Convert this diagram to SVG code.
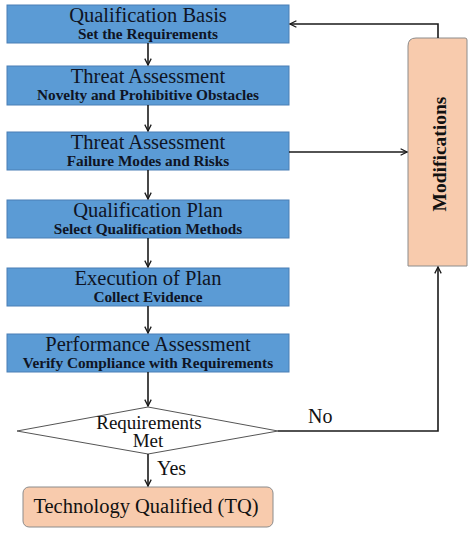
<svg xmlns="http://www.w3.org/2000/svg" width="474" height="534" viewBox="0 0 474 534">
<defs>
<style>
.box{fill:#5b9bd5;stroke:#4a7fb5;stroke-width:1}
.peach{fill:#f8cbad;stroke:#8c8c8c;stroke-width:1}
.t{font-family:'Liberation Serif','DejaVu Serif',serif;fill:#0f1424;text-anchor:middle}
.ti{font-size:20.5px}
.st{font-size:15.3px;font-weight:bold}
.lbl{font-family:'Liberation Serif','DejaVu Serif',serif;fill:#111;font-size:20px}
.ln{fill:none;stroke:#1a1a1a;stroke-width:1.6}
</style>
<marker id="ar" viewBox="0 0 10 10" refX="9" refY="5" markerWidth="8" markerHeight="8" markerUnits="userSpaceOnUse" orient="auto">
<path d="M1,1 L9,5 L1,9" fill="none" stroke="#1a1a1a" stroke-width="1.6"/>
</marker>
</defs>
<rect width="474" height="534" fill="#fff"/>
<g id="n1"><rect class="box" x="7" y="5" width="282" height="38"/>
<text class="t ti" x="148" y="22">Qualification Basis</text>
<text class="t st" x="148" y="39">Set the Requirements</text></g>
<g id="n2"><rect class="box" x="7" y="66" width="282" height="39"/>
<text class="t ti" x="148" y="83">Threat Assessment</text>
<text class="t st" x="148" y="100">Novelty and Prohibitive Obstacles</text></g>
<g id="n3"><rect class="box" x="7" y="132" width="282" height="38"/>
<text class="t ti" x="148" y="149">Threat Assessment</text>
<text class="t st" x="148" y="166">Failure Modes and Risks</text></g>
<g id="n4"><rect class="box" x="7" y="200" width="282" height="38"/>
<text class="t ti" x="148" y="217">Qualification Plan</text>
<text class="t st" x="148" y="234">Select Qualification Methods</text></g>
<g id="n5"><rect class="box" x="7" y="268" width="282" height="38"/>
<text class="t ti" x="148" y="285">Execution of Plan</text>
<text class="t st" x="148" y="302">Collect Evidence</text></g>
<g id="n6"><rect class="box" x="7" y="334" width="282" height="38"/>
<text class="t ti" x="148" y="351">Performance Assessment</text>
<text class="t st" x="148" y="368">Verify Compliance with Requirements</text></g>
<g id="decision"><polygon points="17,431 148,407 278,431 148,454" fill="#fff" stroke="#555" stroke-width="1"/>
<text class="t" style="font-size:19px;fill:#111"><tspan x="149" y="429">Requirements</tspan><tspan x="148" y="447">Met</tspan></text></g>
<g id="tq"><rect class="peach" x="23" y="487" width="250" height="40" rx="6"/>
<text class="t" x="146" y="513" style="font-size:20.5px;fill:#111">Technology Qualified (TQ)</text></g>
<g id="mod"><path class="peach" d="M416,38 H465 Q467,38 467,40 V266 H408 V46 Q408,38 416,38 Z"/>
<text class="t" transform="translate(446,154) rotate(-90)" style="font-size:19.5px;font-weight:bold;fill:#111">Modifications</text></g>
<g id="connectors">
<line class="ln" x1="148" y1="43" x2="148" y2="65" marker-end="url(#ar)"/>
<line class="ln" x1="148" y1="105" x2="148" y2="131" marker-end="url(#ar)"/>
<line class="ln" x1="148" y1="170" x2="148" y2="199" marker-end="url(#ar)"/>
<line class="ln" x1="148" y1="238" x2="148" y2="267" marker-end="url(#ar)"/>
<line class="ln" x1="148" y1="306" x2="148" y2="333" marker-end="url(#ar)"/>
<line class="ln" x1="148" y1="372" x2="148" y2="406" marker-end="url(#ar)"/>
<line class="ln" x1="148" y1="454" x2="148" y2="486" marker-end="url(#ar)"/>
<polyline class="ln" points="438,38 438,24 290,24" marker-end="url(#ar)"/>
<line class="ln" x1="289" y1="152" x2="407" y2="152" marker-end="url(#ar)"/>
<polyline class="ln" points="278,431 438,431 438,267" marker-end="url(#ar)"/>
<text class="lbl" x="308" y="423">No</text>
<text class="lbl" x="157" y="475">Yes</text>
</g>
</svg>
